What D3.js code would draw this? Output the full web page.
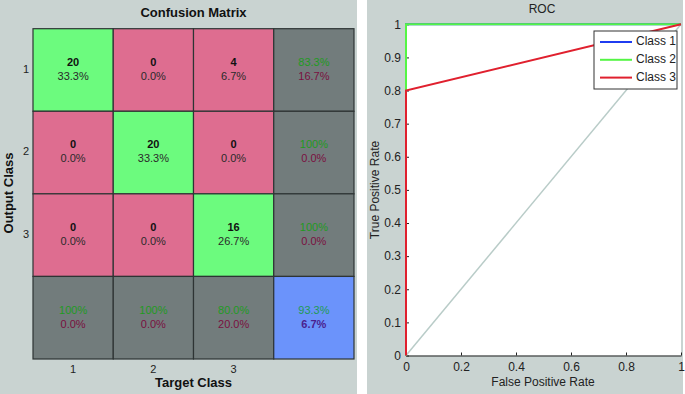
<!DOCTYPE html>
<html lang="en">
<head>
    <meta charset="UTF-8">
    <title>Confusion Matrix and ROC</title>
    <script src="https://d3js.org/d3.v7.min.js"></script>
    <style>
        body { margin: 0; background: #fff; }
        svg { display: block; font-family: "Liberation Sans", Arial, sans-serif; }
        .roc text { font-family: "Liberation Sans Narrow", "Liberation Sans", Arial, sans-serif; }
    </style>
</head>
<body>
<script>
    // confusion matrix: rows = output class, columns = target class
    const classes = ["1", "2", "3"];
    const counts = [
        [20, 0, 4],
        [0, 20, 0],
        [0, 0, 16]
    ];

    // ROC curves (fpr, tpr) per class
    const rocSeries = [
        { name: "Class 1", color: "#1f3cf0", fpr: [0, 0, 1], tpr: [0, 1, 1] },
        { name: "Class 2", color: "#55f545", fpr: [0, 0, 1], tpr: [0, 1, 1] },
        { name: "Class 3", color: "#e0202e", fpr: [0, 0, 1], tpr: [0, 0.8, 1] }
    ];
    const chanceLine = { fpr: [0, 1], tpr: [0, 1] };
    const rocXTicks = [0, 0.2, 0.4, 0.6, 0.8, 1];
    const rocYTicks = [0, 0.1, 0.2, 0.3, 0.4, 0.5, 0.6, 0.7, 0.8, 0.9, 1];

    const width = 685, height = 394;
    const svg = d3.select("body").append("svg")
        .attr("width", width)
        .attr("height", height);

    // panel backgrounds
    svg.append("rect").attr("x", 0).attr("y", 0).attr("width", 357).attr("height", height).attr("fill", "#c9d3d1");
    svg.append("rect").attr("x", 367).attr("y", 0).attr("width", 316).attr("height", height).attr("fill", "#c9d3d1");

    // ---------- confusion matrix ----------
    const n = classes.length;
    const total = d3.sum(counts.flat());
    const pct = v => v === 100 ? "100%" : v.toFixed(1) + "%";

    const cm = svg.append("g");
    const cx = d3.scaleBand().domain(d3.range(n + 1)).range([33, 354]);
    const cy = d3.scaleBand().domain(d3.range(n + 1)).range([28.7, 359]);

    const cells = [];
    for (let r = 0; r <= n; r++) {
        for (let c = 0; c <= n; c++) {
            let fill, lines;
            if (r < n && c < n) {
                const v = counts[r][c];
                fill = r === c ? "#6cfb7e" : "#de6d90";
                lines = [
                    { t: String(v), color: "#111", bold: true },
                    { t: pct(100 * v / total), color: "#2a2a2a", bold: false }
                ];
            } else {
                let ok, all;
                if (r < n) { ok = counts[r][r]; all = d3.sum(counts[r]); }
                else if (c < n) { ok = counts[c][c]; all = d3.sum(counts, row => row[c]); }
                else { ok = d3.sum(d3.range(n), i => counts[i][i]); all = total; }
                const corner = r === n && c === n;
                fill = corner ? "#6b93fb" : "#727c7c";
                lines = [
                    { t: pct(100 * ok / all), color: corner ? "#1f9a55" : "#1f9a1f", bold: false },
                    { t: pct(100 * (all - ok) / all), color: corner ? "#4a1f8f" : "#7a1040", bold: corner }
                ];
            }
            cells.push({ r, c, fill, lines });
        }
    }

    const cell = cm.selectAll("g.cell")
        .data(cells)
        .enter().append("g")
        .attr("class", "cell")
        .attr("transform", d => `translate(${cx(d.c)},${cy(d.r)})`);

    cell.append("rect")
        .attr("width", cx.bandwidth())
        .attr("height", cy.bandwidth())
        .attr("fill", d => d.fill)
        .attr("stroke", "#2e3434")
        .attr("stroke-width", 1.2);

    cell.selectAll("text")
        .data(d => d.lines)
        .enter().append("text")
        .attr("x", cx.bandwidth() / 2)
        .attr("y", (d, i) => cy.bandwidth() / 2 + (i === 0 ? -7 : 7))
        .attr("text-anchor", "middle")
        .attr("dominant-baseline", "middle")
        .attr("font-size", 11)
        .attr("font-weight", d => d.bold ? "bold" : "normal")
        .attr("fill", d => d.color)
        .text(d => d.t);

    // row / column labels
    cm.selectAll("text.rowlab")
        .data(classes)
        .enter().append("text")
        .attr("class", "rowlab")
        .attr("x", 26)
        .attr("y", (d, i) => cy(i) + cy.bandwidth() / 2)
        .attr("text-anchor", "middle")
        .attr("dominant-baseline", "middle")
        .attr("font-size", 11)
        .attr("fill", "#222")
        .text(d => d);

    cm.selectAll("text.collab")
        .data(classes)
        .enter().append("text")
        .attr("class", "collab")
        .attr("x", (d, i) => cx(i) + cx.bandwidth() / 2)
        .attr("y", 370)
        .attr("text-anchor", "middle")
        .attr("dominant-baseline", "middle")
        .attr("font-size", 11)
        .attr("fill", "#222")
        .text(d => d);

    cm.append("text")
        .attr("x", 193.5).attr("y", 14)
        .attr("text-anchor", "middle").attr("dominant-baseline", "middle")
        .attr("font-size", 13).attr("font-weight", "bold").attr("fill", "#111")
        .text("Confusion Matrix");

    cm.append("text")
        .attr("x", 193.5).attr("y", 384)
        .attr("text-anchor", "middle").attr("dominant-baseline", "middle")
        .attr("font-size", 13).attr("font-weight", "bold").attr("fill", "#111")
        .text("Target Class");

    cm.append("text")
        .attr("transform", "translate(10,193) rotate(-90)")
        .attr("text-anchor", "middle").attr("dominant-baseline", "middle")
        .attr("font-size", 13).attr("font-weight", "bold").attr("fill", "#111")
        .text("Output Class");

    // ---------- ROC ----------
    const roc = svg.append("g").attr("class", "roc");
    const x = d3.scaleLinear().domain([0, 1]).range([406, 681]);
    const y = d3.scaleLinear().domain([0, 1]).range([355.5, 24.3]);

    roc.append("rect")
        .attr("x", x(0)).attr("y", y(1))
        .attr("width", x(1) - x(0)).attr("height", y(0) - y(1))
        .attr("fill", "#fff");

    const fmt = d3.format("~g");
    const xAxis = roc.append("g")
        .attr("transform", `translate(0,${y(0)})`)
        .call(d3.axisBottom(x).tickValues(rocXTicks).tickFormat(fmt).tickSizeInner(-3).tickSizeOuter(0).tickPadding(7));
    const yAxis = roc.append("g")
        .attr("transform", `translate(${x(0)},0)`)
        .call(d3.axisLeft(y).tickValues(rocYTicks).tickFormat(fmt).tickSizeInner(-3).tickSizeOuter(0).tickPadding(5));
    [xAxis, yAxis].forEach(a => {
        a.selectAll("text").attr("font-size", 12).attr("fill", "#222");
        a.selectAll("line, path").attr("stroke", "#222");
    });

    const line = d3.line();
    const pts = s => s.fpr.map((f, i) => [x(f), y(s.tpr[i])]);

    roc.append("path")
        .attr("d", line(pts(chanceLine)))
        .attr("fill", "none")
        .attr("stroke", "#b9ccc8")
        .attr("stroke-width", 1.5);

    roc.selectAll("path.curve")
        .data(rocSeries)
        .enter().append("path")
        .attr("class", "curve")
        .attr("d", d => line(pts(d)))
        .attr("fill", "none")
        .attr("stroke", d => d.color)
        .attr("stroke-width", 2);

    roc.append("text")
        .attr("x", 542).attr("y", 10)
        .attr("text-anchor", "middle").attr("dominant-baseline", "middle")
        .attr("font-size", 12).attr("fill", "#222")
        .text("ROC");

    roc.append("text")
        .attr("x", 543).attr("y", 383)
        .attr("text-anchor", "middle").attr("dominant-baseline", "middle")
        .attr("font-size", 12).attr("fill", "#222")
        .text("False Positive Rate");

    roc.append("text")
        .attr("transform", "translate(376,190) rotate(-90)")
        .attr("text-anchor", "middle").attr("dominant-baseline", "middle")
        .attr("font-size", 12).attr("fill", "#222")
        .text("True Positive Rate");

    // legend
    const legend = roc.append("g").attr("transform", "translate(594,31)");
    legend.append("rect")
        .attr("width", 83).attr("height", 58)
        .attr("fill", "#fff").attr("stroke", "#333").attr("stroke-width", 1);
    const item = legend.selectAll("g.item")
        .data(rocSeries)
        .enter().append("g")
        .attr("class", "item")
        .attr("transform", (d, i) => `translate(0,${11 + i * 17.8})`);
    item.append("line")
        .attr("x1", 6).attr("x2", 38)
        .attr("stroke", d => d.color).attr("stroke-width", 2);
    item.append("text")
        .attr("x", 42)
        .attr("dominant-baseline", "middle")
        .attr("font-size", 12).attr("fill", "#222")
        .text(d => d.name);
</script>
</body>
</html>
